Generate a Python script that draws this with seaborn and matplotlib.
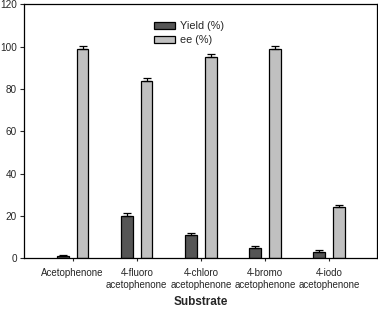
import matplotlib
matplotlib.use("Agg")
import matplotlib.pyplot as plt
import seaborn as sns
import pandas as pd
import numpy as np

substrates = ["Acetophenone", "4-fluoro\nacetophenone", "4-chloro\nacetophenone",
              "4-bromo\nacetophenone", "4-iodo\nacetophenone"]
yield_pct = [1, 20, 11, 5, 3]
yield_err = [0.3, 1.2, 1.0, 1.0, 0.8]
ee_pct = [99, 84, 95, 99, 24]
ee_err = [1.4, 1.4, 1.3, 1.4, 1.2]
series = ["Yield (%)", "ee (%)"]
colors = ["#555555", "#c0c0c0"]

sns.set_theme(style="white")
plt.rcParams["font.family"] = ["Liberation Sans", "DejaVu Sans"]

df = pd.DataFrame({
    "Substrate": substrates * 2,
    "value": yield_pct + ee_pct,
    "series": [series[0]] * len(substrates) + [series[1]] * len(substrates),
})
errs = yield_err + ee_err

fig = plt.figure(figsize=(3.78, 3.10), dpi=100)
ax = fig.add_axes([0.0635, 0.167, 0.934, 0.819])
sns.barplot(data=df, x="Substrate", y="value", hue="series", palette=colors,
            width=0.62, gap=0.42, edgecolor="black", linewidth=0.9, ax=ax,
            errorbar=None, legend=True)

# error bars (upper only)
patches = list(ax.patches)[:len(errs)]
xs = [p.get_x() + p.get_width() / 2 for p in patches]
hs = [p.get_height() for p in patches]
ax.errorbar(xs, hs, yerr=[np.zeros(len(errs)), errs], fmt="none",
            ecolor="black", elinewidth=0.9, capsize=3.2, capthick=0.9)

ax.set_ylim(0, 120)
ax.set_xlim(-0.76, 4.75)
ax.set_yticks([0, 20, 40, 60, 80, 100, 120])
ax.tick_params(axis="y", direction="out", length=3, width=0.8, labelsize=7.2, pad=2, left=True)
ax.tick_params(axis="x", direction="out", length=2.5, width=0.8, labelsize=7.0, pad=4.5, bottom=True)
ax.set_ylabel("")
ax.set_xlabel("Substrate", fontsize=8.5, fontweight="bold", labelpad=5)
for s in ax.spines.values():
    s.set_color("black")
    s.set_linewidth(0.9)

leg = ax.legend(loc="upper left", bbox_to_anchor=(0.355, 0.95), frameon=False,
                fontsize=7.8, handlelength=2.0, handleheight=0.65,
                handletextpad=0.4, labelspacing=0.35, borderaxespad=0)

fig.savefig("out.png", dpi=100)
